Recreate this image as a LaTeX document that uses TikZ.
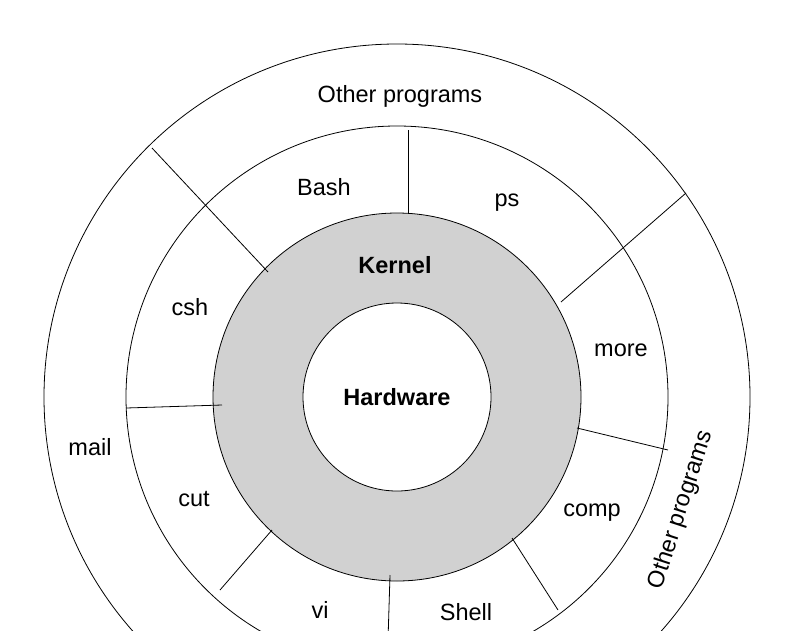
\documentclass[tikz,border=0pt]{standalone}
\usepackage{fontspec}
\setmainfont{Liberation Sans}
\begin{document}
\begin{tikzpicture}[x=1pt,y=-1pt,line width=0.8pt,
  lbl/.style={font=\fontsize{23.5}{26}\selectfont, inner sep=0pt}]
\useasboundingbox (0,0) rectangle (792,630);
\clip (0,0) rectangle (792,630);
\fill[white] (0,0) rectangle (792,630);
\coordinate (c) at (397,397);
\draw (c) circle[radius=353];
\draw (c) circle[radius=271];
\draw[fill=black!18] (c) circle[radius=184];
\draw[fill=white] (c) circle[radius=94];
\coordinate (a1) at (408,130); \coordinate (a2) at (408,213);
\coordinate (b1) at (152,148); \coordinate (b2) at (268,272);
\coordinate (d1) at (561,302); \coordinate (d2) at (686,193);
\coordinate (e1) at (126,408); \coordinate (e2) at (222,405);
\coordinate (f1) at (577,428); \coordinate (f2) at (668,450);
\coordinate (g1) at (272,530); \coordinate (g2) at (220,590);
\coordinate (h1) at (512,538); \coordinate (h2) at (558,610);
\coordinate (i1) at (390,575); \coordinate (i2) at (388,640);
\foreach \p in {a,b,d,e,f,g,h,i} \draw (\p1) -- (\p2);
\node[lbl] (op) at (400,96) {Other programs};
\node[lbl,rotate=72] (op2) at (681,510) {Other programs};
\node[lbl] (bash) at (324,187) {Bash};
\node[lbl] (ps) at (507,203) {ps};
\node[lbl] (csh) at (190,307) {csh};
\node[lbl] (more) at (621,350) {more};
\node[lbl] (mail) at (90,447) {mail};
\node[lbl] (cut) at (194,499) {cut};
\node[lbl] (comp) at (592,513) {comp};
\node[lbl] (vi) at (320,610) {vi};
\node[lbl] (shell) at (466,612) {Shell};
\node[lbl,font=\bfseries\fontsize{23.5}{26}\selectfont] (k) at (395,265) {Kernel};
\node[lbl,font=\bfseries\fontsize{23.5}{26}\selectfont] (hw) at (397,397) {Hardware};
\end{tikzpicture}
\end{document}
